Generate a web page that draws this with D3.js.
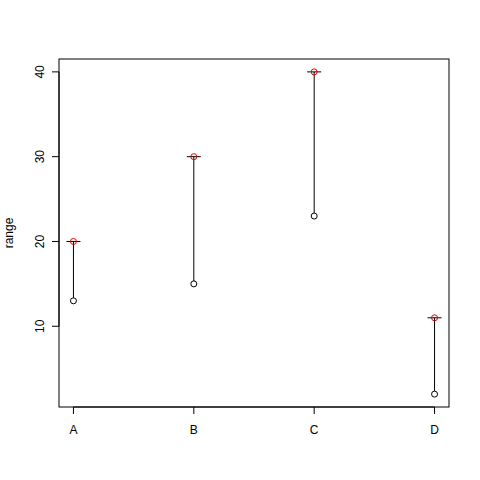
<!DOCTYPE html>
<html>
<head>
<meta charset="utf-8">
<script src="https://cdn.jsdelivr.net/npm/d3@7"></script>
<style>
  body { margin: 0; background: #fff; }
  text { font-family: "Liberation Sans", Arial, sans-serif; font-size: 12px; fill: #000; }
</style>
</head>
<body>
<div id="chart"></div>
<script>
// data
var categories = ["A", "B", "C", "D"];
var lowValues = [13, 15, 23, 2];
var highValues = [20, 30, 40, 11];
var yTicks = [10, 20, 30, 40];

var width = 480, height = 480;
var plot = { left: 59, right: 449, top: 59, bottom: 407 };

var svg = d3.select("#chart").append("svg")
    .attr("width", width)
    .attr("height", height);

// R style 4% extension
var yMin = d3.min(lowValues), yMax = d3.max(highValues);
var yPad = (yMax - yMin) * 0.04;
var y = d3.scaleLinear()
    .domain([yMin - yPad, yMax + yPad])
    .range([plot.bottom, plot.top]);

var xPad = (categories.length - 1) * 0.04;
var x = d3.scaleLinear()
    .domain([1 - xPad, categories.length + xPad])
    .range([plot.left, plot.right]);

// box
svg.append("rect")
    .attr("x", plot.left).attr("y", plot.top)
    .attr("width", plot.right - plot.left)
    .attr("height", plot.bottom - plot.top)
    .attr("fill", "none").attr("stroke", "#000").attr("stroke-width", 1);

// y axis
var yAxis = svg.append("g").attr("transform", "translate(" + plot.left + ",0)");
yAxis.append("line")
    .attr("x1", 0).attr("x2", 0)
    .attr("y1", y(yTicks[0])).attr("y2", y(yTicks[yTicks.length - 1]))
    .attr("stroke", "#000");
yTicks.forEach(function(t) {
    yAxis.append("line")
        .attr("x1", -7).attr("x2", 0)
        .attr("y1", y(t)).attr("y2", y(t))
        .attr("stroke", "#000");
    yAxis.append("text")
        .attr("transform", "translate(-15," + y(t) + ") rotate(-90)")
        .attr("text-anchor", "middle")
        .text(t);
});

// x axis
var xAxis = svg.append("g").attr("transform", "translate(0," + plot.bottom + ")");
xAxis.append("line")
    .attr("x1", x(1)).attr("x2", x(categories.length))
    .attr("y1", 0).attr("y2", 0)
    .attr("stroke", "#000");
categories.forEach(function(c, i) {
    xAxis.append("line")
        .attr("x1", x(i + 1)).attr("x2", x(i + 1))
        .attr("y1", 0).attr("y2", 7)
        .attr("stroke", "#000");
    xAxis.append("text")
        .attr("x", x(i + 1)).attr("y", 27)
        .attr("text-anchor", "middle")
        .text(c);
});

// y label
svg.append("text")
    .attr("transform", "translate(13," + ((plot.top + plot.bottom) / 2) + ") rotate(-90)")
    .attr("text-anchor", "middle")
    .text("range");

// segments
categories.forEach(function(c, i) {
    var cx = x(i + 1);
    svg.append("line")
        .attr("x1", cx).attr("x2", cx)
        .attr("y1", y(lowValues[i])).attr("y2", y(highValues[i]))
        .attr("stroke", "#000");
    svg.append("line")
        .attr("x1", cx - 7).attr("x2", cx + 7)
        .attr("y1", y(highValues[i])).attr("y2", y(highValues[i]))
        .attr("stroke", "#000");
    svg.append("circle")
        .attr("cx", cx).attr("cy", y(lowValues[i])).attr("r", 3)
        .attr("fill", "#fff").attr("stroke", "#000");
    svg.append("circle")
        .attr("cx", cx).attr("cy", y(highValues[i])).attr("r", 3)
        .attr("fill", "none").attr("stroke", "#e00000");
});
</script>
</body>
</html>
